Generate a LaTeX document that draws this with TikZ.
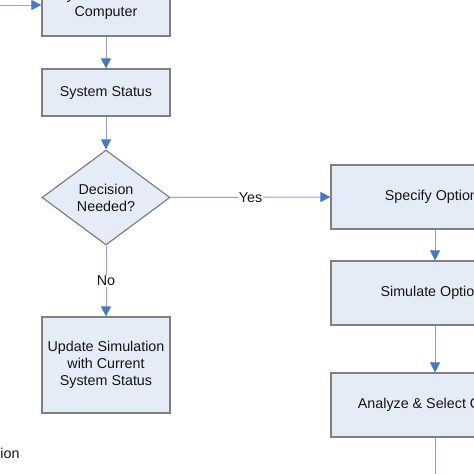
\documentclass[tikz,border=0pt]{standalone}
\usepackage{fontspec}
\setmainfont{Liberation Sans}
\usetikzlibrary{shapes.geometric,arrows.meta}
\definecolor{boxfill}{HTML}{E6ECF7}
\definecolor{boxdraw}{HTML}{808080}
\definecolor{linec}{HTML}{93A7CC}
\definecolor{tipc}{HTML}{4A78C0}
\definecolor{txt}{HTML}{141414}
\begin{document}
\begin{tikzpicture}[x=1pt,y=-1pt,
  every node/.style={font=\fontsize{14.3}{17}\selectfont, text=txt},
  box/.style={draw=boxdraw, fill=boxfill, line width=1.2pt, rectangle, align=center, inner sep=0pt},
  dec/.style={draw=boxdraw, fill=boxfill, line width=1.2pt, diamond, aspect=1.347, align=center, inner sep=0pt, minimum width=128pt, minimum height=95pt},
  conn/.style={draw=linec, line width=1pt, -{Triangle[length=10pt,width=10pt,fill=tipc,color=tipc]}},
  plain/.style={draw=linec, line width=1pt},
  lbl/.style={fill=white, inner sep=1pt}]
\useasboundingbox (0,0) rectangle (474,474);
\fill[white] (0,0) rectangle (474,474);
\node[box, minimum width=128pt, minimum height=64pt] (b1) at (106,4) {System Control\\Computer};
\node[box, minimum width=128pt, minimum height=47pt] (b2) at (106,92.5) {System Status};
\node[dec] (d) at (106,197.5) {Decision\\Needed?};
\node[box, minimum width=128pt, minimum height=96pt] (b4) at (106,365) {Update Simulation\\with Current\\System Status};
\node[box, minimum width=208pt, minimum height=64pt] (b3) at (435,197) {Specify Options};
\node[box, minimum width=208pt, minimum height=64pt] (b5) at (435,293) {Simulate Options};
\node[box, minimum width=208pt, minimum height=64pt] (b6) at (435,405) {Analyze \& Select Option};
\coordinate (in) at (-5,5);
\coordinate (out) at (435,480);
\draw[conn] (in) -- (b1.west |- in);
\draw[conn] (b1) -- (b2);
\draw[conn] (b2) -- (d);
\draw[conn] (d.east) -- node[lbl] {Yes} (b3.west);
\draw[conn] (d.south) -- node[lbl, pos=0.5] {No} (b4.north);
\draw[conn] (b3) -- (b5);
\draw[conn] (b5) -- (b6);
\draw[plain] (b6) -- (out);
\node[anchor=base east] (cap) at (23,458) {Simulation};
\end{tikzpicture}
\end{document}
